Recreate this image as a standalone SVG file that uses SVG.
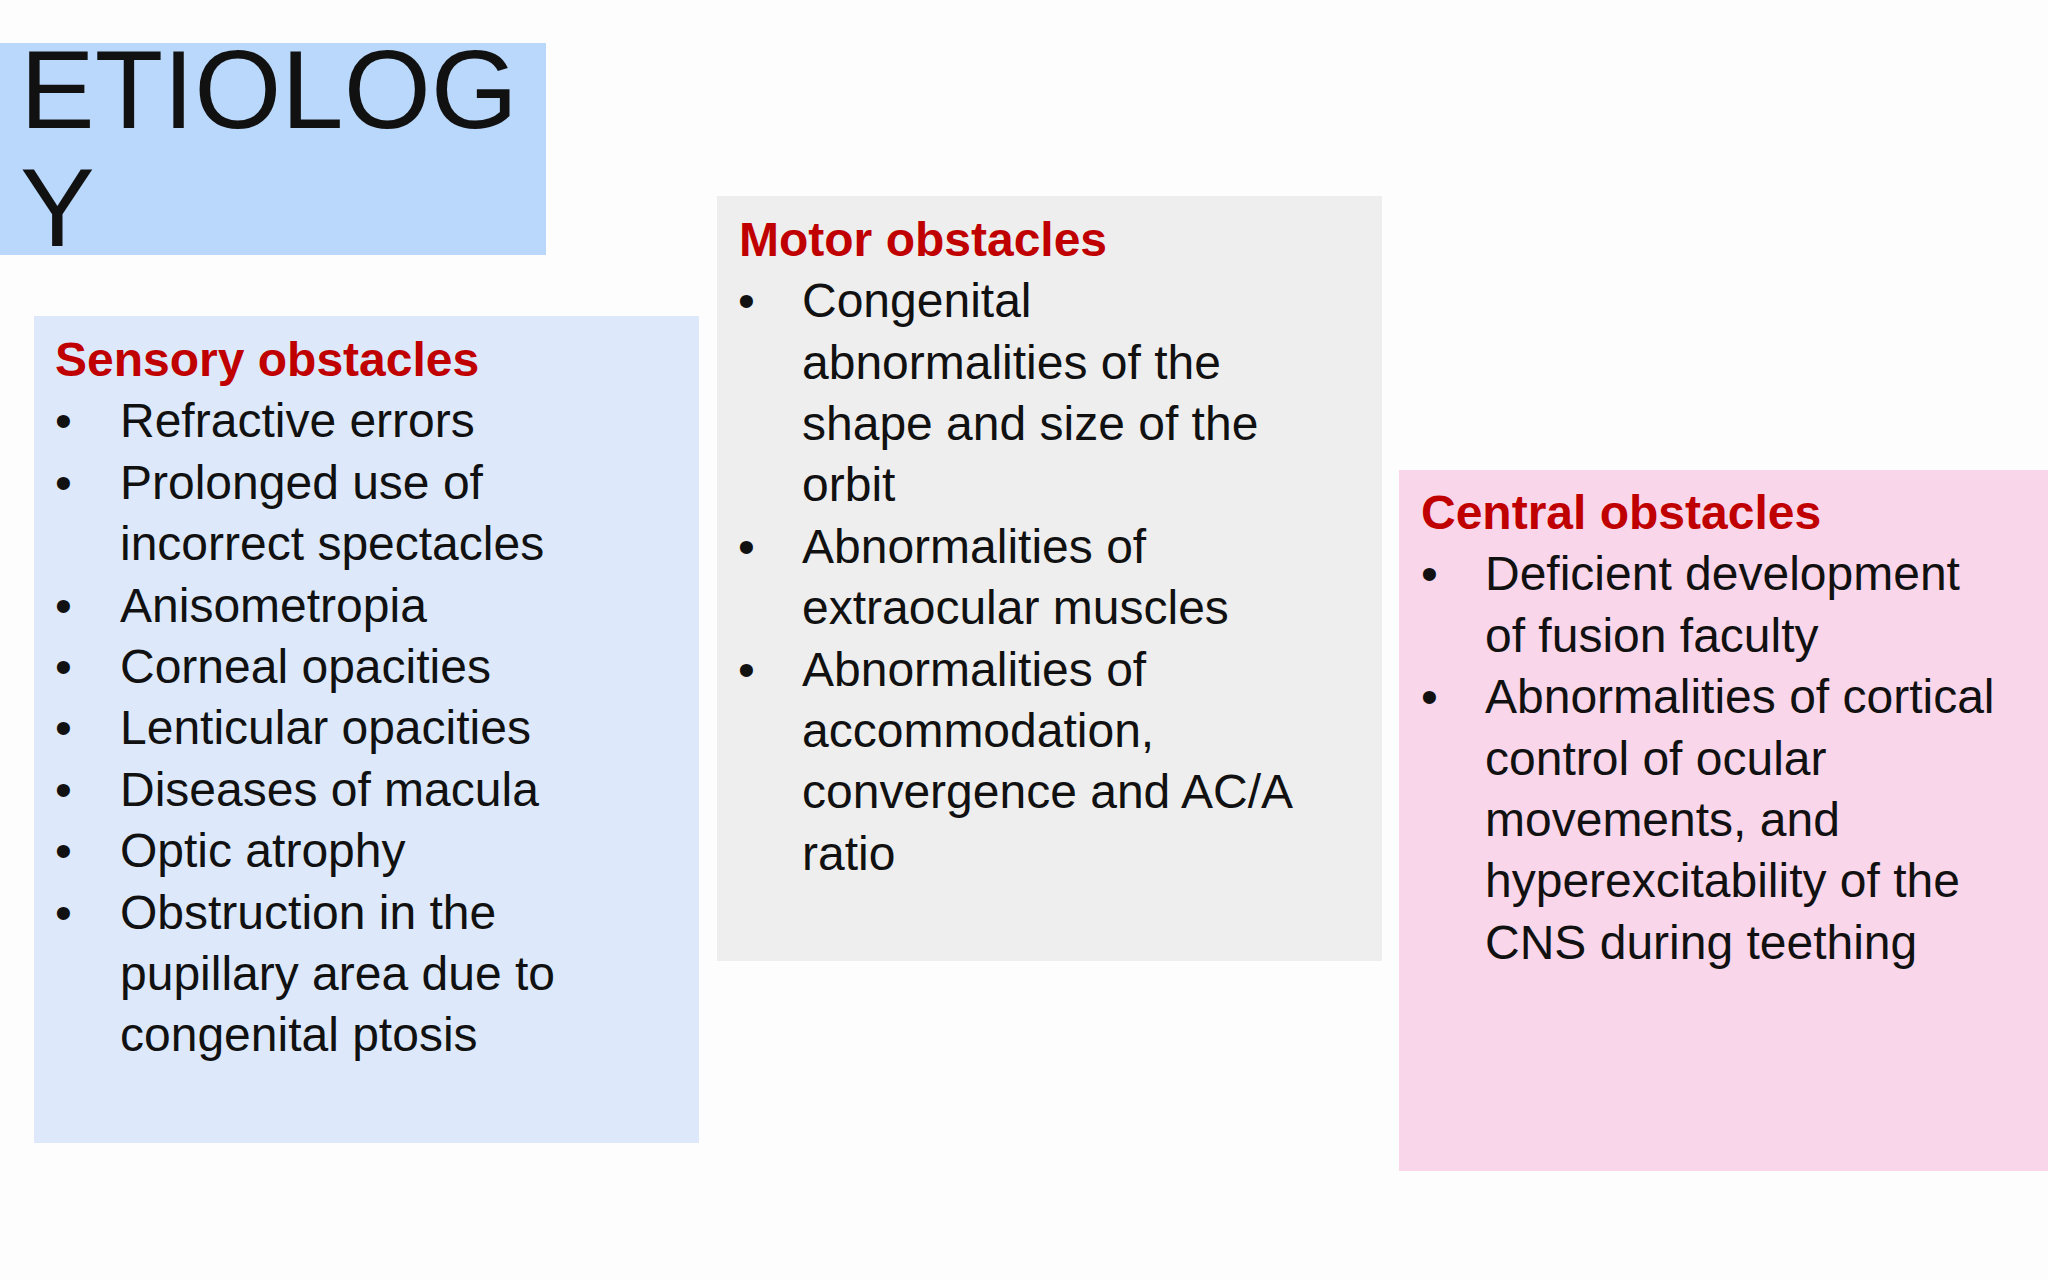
<svg xmlns="http://www.w3.org/2000/svg" width="2048" height="1280" viewBox="0 0 2048 1280">
<style>
text{font-family:"Liberation Sans",Arial,sans-serif;fill:#111}
.h{font-weight:bold;fill:#c00000;font-size:48px}
.t{font-size:48px}
</style>
<rect width="2048" height="1280" fill="#fdfdfd"/>
<g id="title"><rect x="0" y="43" width="546" height="212" fill="#b9d8fb"/>
<text x="20" y="128" style="font-size:112px">ETIOLOG</text><text x="20" y="246" style="font-size:112px">Y</text></g>
<g id="sensory"><rect x="34" y="316" width="665" height="827" fill="#dde9fb"/>
<text class="h" x="55" y="376">Sensory obstacles</text>
<g class="t">
<text class="t" x="55" y="437">•</text><text class="t" x="120" y="437">Refractive errors</text>
<text class="t" x="55" y="499">•</text><text class="t" x="120" y="499">Prolonged use of</text>
<text class="t" x="120" y="560">incorrect spectacles</text>
<text class="t" x="55" y="622">•</text><text class="t" x="120" y="622">Anisometropia</text>
<text class="t" x="55" y="683">•</text><text class="t" x="120" y="683">Corneal opacities</text>
<text class="t" x="55" y="744">•</text><text class="t" x="120" y="744">Lenticular opacities</text>
<text class="t" x="55" y="806">•</text><text class="t" x="120" y="806">Diseases of macula</text>
<text class="t" x="55" y="867">•</text><text class="t" x="120" y="867">Optic atrophy</text>
<text class="t" x="55" y="929">•</text><text class="t" x="120" y="929">Obstruction in the</text>
<text class="t" x="120" y="990">pupillary area due to</text>
<text class="t" x="120" y="1051">congenital ptosis</text></g></g>
<g id="motor"><rect x="717" y="196" width="665" height="765" fill="#eeeeef"/>
<text class="h" x="739" y="256">Motor obstacles</text>
<text class="t" x="738" y="317">•</text><text class="t" x="802" y="317">Congenital</text>
<text class="t" x="802" y="379">abnormalities of the</text>
<text class="t" x="802" y="440">shape and size of the</text>
<text class="t" x="802" y="501">orbit</text>
<text class="t" x="738" y="563">•</text><text class="t" x="802" y="563">Abnormalities of</text>
<text class="t" x="802" y="624">extraocular muscles</text>
<text class="t" x="738" y="686">•</text><text class="t" x="802" y="686">Abnormalities of</text>
<text class="t" x="802" y="747">accommodation,</text>
<text class="t" x="802" y="808">convergence and AC/A</text>
<text class="t" x="802" y="870">ratio</text></g>
<g id="central"><rect x="1399" y="470" width="649" height="701" fill="#f9d6ea"/>
<text class="h" x="1421" y="529">Central obstacles</text>
<text class="t" x="1421" y="590">•</text><text class="t" x="1485" y="590">Deficient development</text>
<text class="t" x="1485" y="652">of fusion faculty</text>
<text class="t" x="1421" y="713">•</text><text class="t" x="1485" y="713">Abnormalities of cortical</text>
<text class="t" x="1485" y="775">control of ocular</text>
<text class="t" x="1485" y="836">movements, and</text>
<text class="t" x="1485" y="897">hyperexcitability of the</text>
<text class="t" x="1485" y="959">CNS during teething</text></g>
<g id="connectors"/>
</svg>
